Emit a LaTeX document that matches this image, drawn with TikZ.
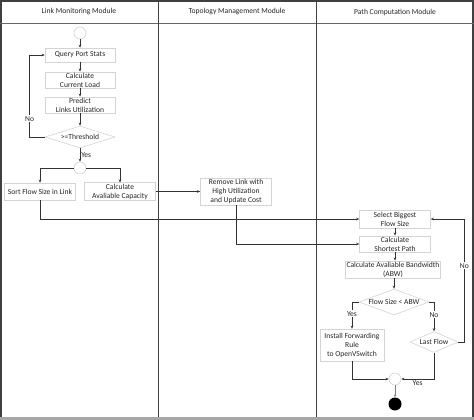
\documentclass[tikz,border=0pt]{standalone}
\usepackage{fontspec}
\setmainfont{Carlito}
\usetikzlibrary{arrows.meta,shapes.geometric}
\definecolor{boxline}{HTML}{D4D4D4}
\definecolor{frame}{HTML}{404040}
\tikzset{
  every node/.style={font=\fontsize{7.6}{9}\selectfont, text=black!85},
  procbox/.style={draw=boxline, fill=white, line width=0.6pt, align=center, inner sep=1pt},
  decbox/.style={draw=boxline, fill=white, line width=0.6pt, diamond, aspect=3, inner sep=0pt, align=center},
  startc/.style={draw=boxline, fill=white, circle, line width=0.6pt, minimum size=12pt, inner sep=0pt},
  endc/.style={fill=black, circle, minimum size=13pt, inner sep=0pt},
  flow/.style={draw=black!80, line width=0.5pt, -{Stealth[length=3pt,width=2.6pt]}},
  lbl/.style={inner sep=1pt},
  onl/.style={inner sep=1pt, fill=white},
  lane/.style={draw=frame, line width=1pt}
}
\begin{document}
\begin{tikzpicture}[x=1pt,y=-1pt]
\useasboundingbox (0,0) rectangle (474,420);
% frame
\draw[lane, line width=2pt] (1,0) -- (1,417);
\draw[lane, line width=2pt] (473,0) -- (473,417);
\draw[lane, line width=2pt] (0,1) -- (474,1);
\draw[draw=black!35, line width=3pt] (0,418.5) -- (474,418.5);
\draw[draw=black!60, line width=0.8pt] (0,23) -- (474,23);
\draw[lane] (158,0) -- (158,417);
\draw[lane] (316,0) -- (316,417);
% headers
\node (h1) at (79,12) {Link Monitoring Module};
\node (h2) at (237,12) {Topology Management Module};
\node (h3) at (395,12) {Path Computation Module};
% lane 1
\node[startc] (s) at (80,33) {};
\node[procbox, minimum width=70pt, minimum height=14pt] (q) at (80,55) {Query Port Stats};
\node[procbox, minimum width=70pt, minimum height=16pt] (cl) at (80,80) {Calculate\\Current Load};
\node[procbox, minimum width=70pt, minimum height=16pt] (pl) at (80,105) {Predict\\Links Utilization};
\node[decbox, minimum width=70pt, minimum height=22pt] (th) at (80,137) {>=Threshold};
\node[startc] (m1) at (80,168) {};
\node[procbox, minimum width=71pt, minimum height=17pt] (sf) at (40,191.5) {Sort Flow Size in Link};
\node[procbox, minimum width=71pt, minimum height=17pt] (ca) at (120,191.5) {Calculate\\Avaliable Capacity};
% lane 2
\node[procbox, minimum width=71pt, minimum height=27pt] (rl) at (236,191.5) {Remove Link with\\High Utilization\\and Update Cost};
% lane 3
\node[procbox, minimum width=71pt, minimum height=18pt] (sb) at (395,219) {Select Biggest\\Flow Size};
\node[procbox, minimum width=71pt, minimum height=16pt] (sp) at (395,244) {Calculate\\Shortest Path};
\node[procbox, minimum width=95pt, minimum height=17pt] (ab) at (393,269.5) {Calculate Avaliable Bandwidth\\(ABW)};
\node[decbox, minimum width=70pt, minimum height=26pt] (fd) at (394,302) {Flow Size < ABW};
\node[procbox, minimum width=64pt, minimum height=32pt] (ins) at (352,345) {Install Forwarding\\Rule\\to OpenVSwitch};
\node[decbox, minimum width=48pt, minimum height=21pt] (lf) at (434,342) {Last Flow};
\node[startc] (m2) at (395,379) {};
\node[endc] (e) at (395,404) {};
% connectors
\draw[flow] (s) -- (q);
\draw[flow] (q) -- (cl);
\draw[flow] (cl) -- (pl);
\draw[flow] (pl) -- (th);
\draw[flow] (th.west) -- ++(-15,0) |- (q.west) node[onl, pos=0.11] {No};
\draw[flow] (th.south) -- (m1) node[lbl, midway, right=0pt] {Yes};
\draw[flow] (m1.west) -| (sf.north);
\draw[flow] (m1.east) -| (ca.north);
\draw[flow] (ca) -- (rl);
\draw[flow] (sf.south) |- (sb.west);
\draw[flow] (rl.south) |- (sp.west);
\draw[flow] (sb) -- (sp);
\draw[flow] (sp) -- (ab.north -| sp);
\draw[flow] (ab.south -| fd) -- (fd.north);
\draw[flow] (fd.west) -| (ins.north) node[onl, pos=0.72] {Yes};
\draw[flow] (fd.east) -| (lf.north) node[onl, pos=0.72] {No};
\draw[flow] (lf.east) -- ++(6,0) |- (sb.east) node[onl, pos=0.31] {No};
\draw[flow] (ins.south) |- (m2.west);
\draw[flow] (lf.south) |- (m2.east) node[lbl, pos=0.75, below=0pt] {Yes};
\draw[flow, draw=black!50] (m2) -- (e);
\end{tikzpicture}
\end{document}
